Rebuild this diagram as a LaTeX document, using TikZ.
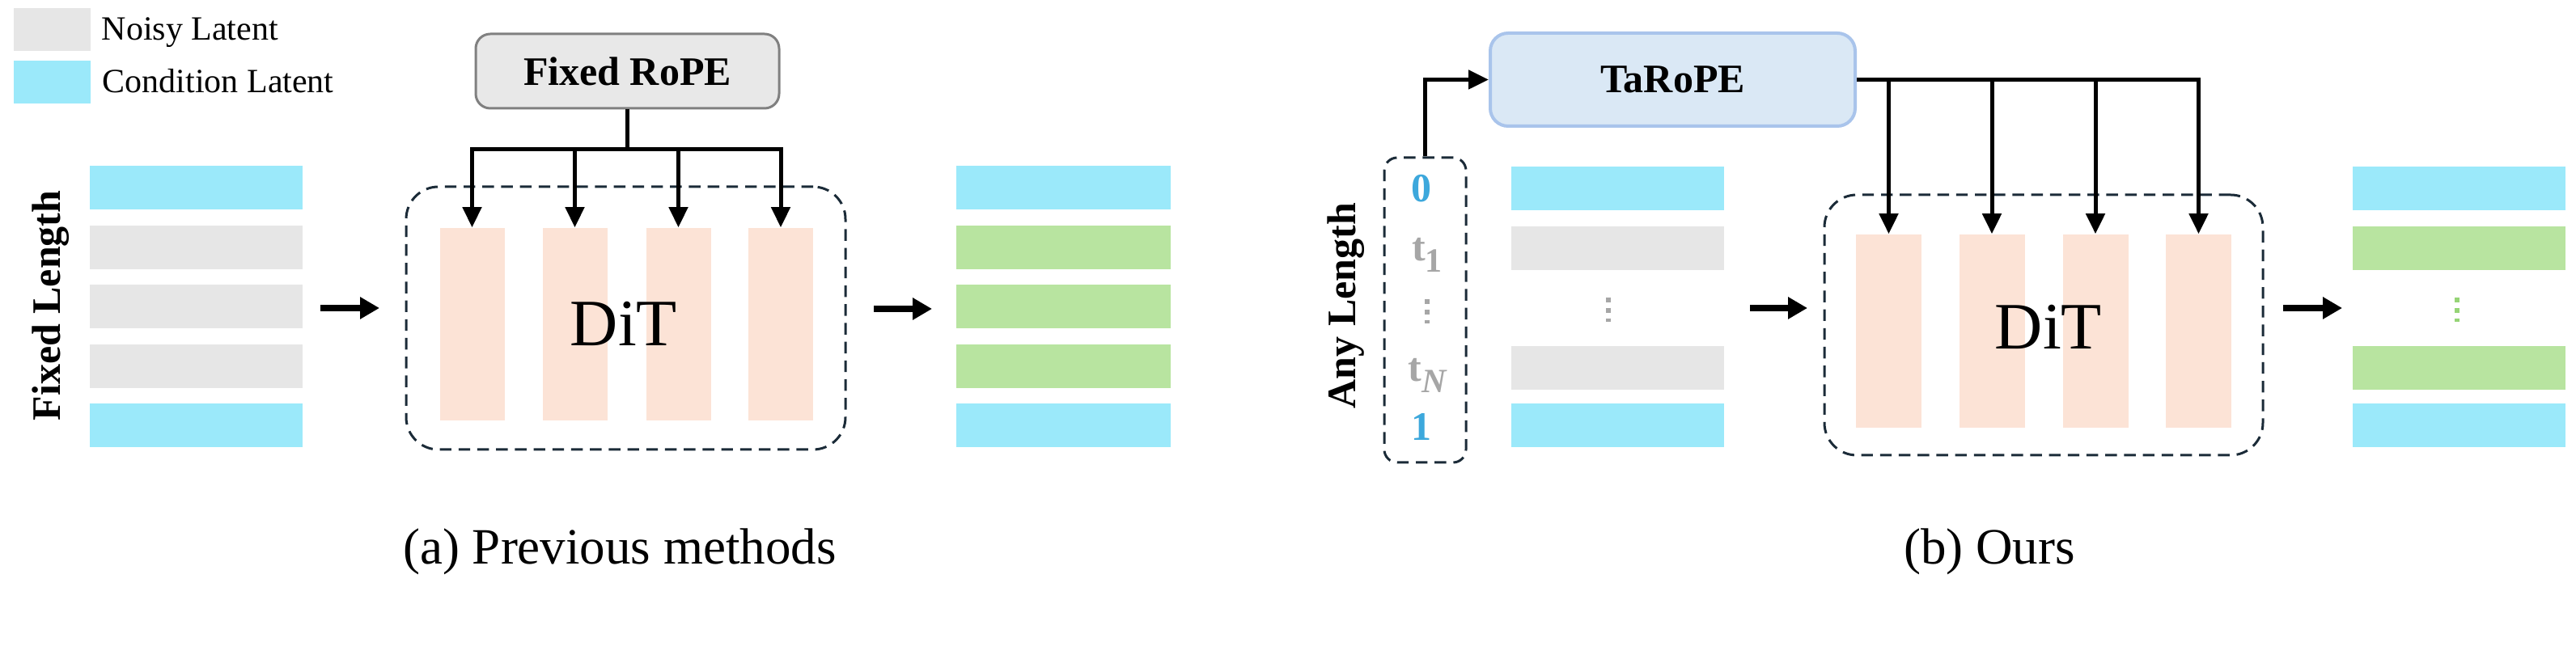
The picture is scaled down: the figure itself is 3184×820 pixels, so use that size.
\documentclass[tikz,border=0pt]{standalone}
\usepackage{fontspec}
\setmainfont{Liberation Serif}
\usetikzlibrary{arrows.meta}
\definecolor{cyanL}{RGB}{155,233,250}
\definecolor{grayL}{RGB}{230,230,230}
\definecolor{greenL}{RGB}{184,228,160}
\definecolor{orangeL}{RGB}{252,227,214}
\definecolor{blueF}{RGB}{218,232,245}
\definecolor{blueD}{RGB}{169,196,235}
\definecolor{ropeF}{RGB}{232,232,232}
\definecolor{ropeD}{RGB}{128,128,128}
\definecolor{dashC}{RGB}{27,43,56}
\definecolor{labB}{RGB}{61,168,220}
\definecolor{labG}{RGB}{166,166,166}
\definecolor{dotG}{RGB}{150,212,118}
\begin{document}
\begin{tikzpicture}[x=0.25pt,y=-0.25pt,
  bar/.style={rectangle,inner sep=0,minimum width=65.75pt,minimum height=13.5pt,draw=none},
  cbar/.style={bar,fill=cyanL},
  gbar/.style={bar,fill=grayL},
  nbar/.style={bar,fill=greenL},
  legbox/.style={rectangle,inner sep=0,minimum width=23.75pt,minimum height=13.25pt},
  obar/.style={rectangle,inner sep=0,fill=orangeL,minimum width=20pt,minimum height=59.5pt},
  ditbox/.style={rectangle,draw=dashC,line width=0.75pt,dash pattern=on 3.6pt off 2.2pt,rounded corners=10pt,inner sep=0},
  conn/.style={line width=1.25pt,-{Triangle[width=5.75pt,length=6.25pt]}},
  bigarrow/.style={line width=2pt,-{Triangle[width=6.5pt,length=6pt]}},
  legtext/.style={anchor=base west,inner sep=0,font=\fontsize{10.5pt}{12pt}\selectfont},
  sidetext/.style={rotate=90,anchor=base,inner sep=0,font=\fontsize{12.5pt}{14pt}\selectfont\bfseries},
  ropetext/.style={font=\fontsize{12.5pt}{14pt}\selectfont\bfseries},
  dittext/.style={inner sep=0,font=\fontsize{20.5pt}{24pt}\selectfont},
  captext/.style={anchor=base,inner sep=0,font=\fontsize{15.75pt}{18pt}\selectfont},
  labtext/.style={anchor=base,inner sep=0,font=\fontsize{12.5pt}{14pt}\selectfont\bfseries},
  vdots/.style={line width=1.5pt,dash pattern=on 1.6pt off 1.6pt}
]
\useasboundingbox (0,0) rectangle (3184,820);
\fill[white] (0,0) rectangle (3184,820);

% ---------- legend ----------
\node[legbox,fill=grayL] (leg1) at (64.5,36.5) {};
\node[legbox,fill=cyanL] (leg2) at (64.5,101.5) {};
\node[legtext] (legt1) at (125,50) {Noisy Latent};
\node[legtext] (legt2) at (126,115) {Condition Latent};

% ---------- (a) previous methods ----------
\node[sidetext] (fixlen) at (74,378) {Fixed Length};
\node[cbar] (ai1) at (242.5,232) {};
\node[gbar] (ai2) at (242.5,306) {};
\node[gbar] (ai3) at (242.5,379) {};
\node[gbar] (ai4) at (242.5,453) {};
\node[cbar] (ai5) at (242.5,526) {};

\coordinate (aas) at (396,381);
\coordinate (aae) at (469,381);
\draw[bigarrow] (aas) -- (aae);

\node[ditbox,minimum width=135.75pt,minimum height=81.25pt] (adit) at (773.5,393.5) {};
\node[obar] (b1) at (583.5,401) {};
\node[obar] (b2) at (710.5,401) {};
\node[obar] (b3) at (838.5,401) {};
\node[obar] (b4) at (965,401) {};
\node[dittext] (adittext) at (771,400) {DiT};

\node[rectangle,rounded corners=4.5pt,draw=ropeD,fill=ropeF,line width=0.75pt,
      minimum width=93.75pt,minimum height=23pt,inner sep=0,ropetext] (fr) at (775.5,88) {Fixed RoPE};
\coordinate (hy) at (777,185);
\draw[conn] (fr.south) -- (fr.south |- hy) -| (b1.north);
\draw[conn] (fr.south) -- (fr.south |- hy) -| (b2.north);
\draw[conn] (fr.south) -- (fr.south |- hy) -| (b3.north);
\draw[conn] (fr.south) -- (fr.south |- hy) -| (b4.north);

\coordinate (abs) at (1080,382);
\coordinate (abe) at (1152,382);
\draw[bigarrow] (abs) -- (abe);

\node[cbar,minimum width=66.25pt] (ao1) at (1314.5,232) {};
\node[nbar,minimum width=66.25pt] (ao2) at (1314.5,306) {};
\node[nbar,minimum width=66.25pt] (ao3) at (1314.5,379) {};
\node[nbar,minimum width=66.25pt] (ao4) at (1314.5,453) {};
\node[cbar,minimum width=66.25pt] (ao5) at (1314.5,526) {};

\node[captext] (capa) at (766,698) {(a) Previous methods};

% ---------- (b) ours ----------
\node[sidetext] (anylen) at (1675,378) {Any Length};
\node[rectangle,draw=dashC,line width=0.75pt,dash pattern=on 3.6pt off 2.2pt,rounded corners=4pt,
      minimum width=25.25pt,minimum height=94.25pt,inner sep=0] (col) at (1761.5,383.5) {};
\node[labtext,text=labB] (l0) at (1757,250) {0};
\node[labtext,text=labG] (lt1) at (1764,323) {t\raisebox{-0.28em}{\fontsize{10.5pt}{12pt}\selectfont 1}};
\draw[labG,vdots] (1764,370) -- (1764,400);
\node[labtext,text=labG] (ltn) at (1764,472) {t\raisebox{-0.28em}{\fontsize{10.5pt}{12pt}\selectfont\itshape N}};
\node[labtext,text=labB] (l1) at (1757,545) {1};

\node[cbar] (bi1) at (1999.5,233) {};
\node[gbar] (bi2) at (1999.5,307.5) {};
\draw[labG,vdots] (1988,368) -- (1988,398);
\node[gbar] (bi4) at (1999.5,455) {};
\node[cbar] (bi5) at (1999.5,526.5) {};

\node[rectangle,rounded corners=5.5pt,draw=blueD,fill=blueF,line width=1pt,
      minimum width=112.75pt,minimum height=28.75pt,inner sep=0,ropetext] (tr) at (2067.5,98.5) {TaRoPE};
\draw[conn] (col.north) |- (tr.west);

\node[ditbox,minimum width=135.5pt,minimum height=80.5pt] (bdit) at (2526,402) {};
\node[obar,minimum width=20.25pt,minimum height=59.75pt] (c1) at (2334.5,409.5) {};
\node[obar,minimum width=20.25pt,minimum height=59.75pt] (c2) at (2462,409.5) {};
\node[obar,minimum width=20.25pt,minimum height=59.75pt] (c3) at (2590,409.5) {};
\node[obar,minimum width=20.25pt,minimum height=59.75pt] (c4) at (2717.5,409.5) {};
\node[dittext] (bdittext) at (2532,404) {DiT};

\draw[conn] (tr.east) -| (c1.north);
\draw[conn] (tr.east) -| (c2.north);
\draw[conn] (tr.east) -| (c3.north);
\draw[conn] (tr.east) -| (c4.north);

\coordinate (bas) at (2163,381);
\coordinate (bae) at (2234,381);
\draw[bigarrow] (bas) -- (bae);
\coordinate (bbs) at (2822,381);
\coordinate (bbe) at (2895,381);
\draw[bigarrow] (bbs) -- (bbe);

\node[cbar] (bo1) at (3039.5,233) {};
\node[nbar] (bo2) at (3039.5,307.5) {};
\draw[dotG,vdots] (3037,368) -- (3037,398);
\node[nbar] (bo4) at (3039.5,455) {};
\node[cbar] (bo5) at (3039.5,526.5) {};

\node[captext] (capb) at (2459,698) {(b) Ours};
\end{tikzpicture}
\end{document}
